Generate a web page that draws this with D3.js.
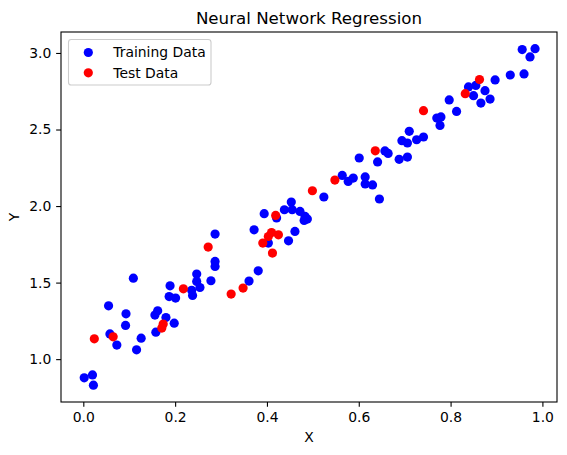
<!DOCTYPE html>
<html>
<head>
<meta charset="utf-8">
<script src="https://cdn.jsdelivr.net/npm/d3@7"></script>
<style>
  body { margin: 0; background: #fff; }
  svg text { font-family: "DejaVu Sans", sans-serif; fill: #000; }
</style>
</head>
<body>
<svg id="container" width="567" height="455"></svg>
<script>
// Training points (blue)
var trainX = [0.002, 0.020, 0.022, 0.055, 0.058, 0.073, 0.093, 0.092, 0.109, 0.116,
              0.126, 0.162, 0.156, 0.180, 0.198, 0.158, 0.189, 0.187, 0.201, 0.236,
              0.238, 0.247, 0.247, 0.254, 0.278, 0.287, 0.287, 0.287, 0.361, 0.381,
              0.372, 0.394, 0.421, 0.403, 0.447, 0.461, 0.453, 0.438, 0.455, 0.472,
              0.483, 0.488, 0.481, 0.524, 0.564, 0.577, 0.588, 0.601, 0.614, 0.614,
              0.630, 0.645, 0.641, 0.657, 0.664, 0.688, 0.706, 0.694, 0.710, 0.706,
              0.726, 0.741, 0.770, 0.779, 0.777, 0.797, 0.813, 0.839, 0.855, 0.875,
              0.850, 0.886, 0.866, 0.897, 0.930, 0.960, 0.956, 0.984, 0.973];
var trainY = [0.878, 0.897, 0.830, 1.348, 1.165, 1.092, 1.296, 1.220, 1.529, 1.061,
              1.137, 1.316, 1.288, 1.272, 1.235, 1.176, 1.479, 1.409, 1.399, 1.450,
              1.416, 1.556, 1.507, 1.468, 1.512, 1.638, 1.605, 1.817, 1.510, 1.577,
              1.845, 1.950, 1.922, 1.758, 1.773, 1.834, 2.026, 1.976, 1.976, 1.965,
              1.932, 1.915, 1.906, 2.059, 2.200, 2.161, 2.183, 2.314, 2.190, 2.144,
              2.138, 2.046, 2.288, 2.360, 2.344, 2.305, 2.320, 2.427, 2.488, 2.412,
              2.433, 2.451, 2.575, 2.582, 2.527, 2.693, 2.618, 2.778, 2.788, 2.754,
              2.721, 2.699, 2.673, 2.824, 2.856, 2.863, 3.022, 3.028, 2.974];

// Test points (red)
var testX = [0.024, 0.065, 0.171, 0.174, 0.218, 0.272, 0.322, 0.348, 0.391, 0.403,
             0.410, 0.425, 0.412, 0.419, 0.499, 0.548, 0.636, 0.741, 0.832, 0.863];
var testY = [1.133, 1.146, 1.203, 1.229, 1.459, 1.732, 1.425, 1.464, 1.758, 1.801,
             1.827, 1.812, 1.693, 1.939, 2.100, 2.170, 2.361, 2.623, 2.734, 2.826];

var xTicks = [0.0, 0.2, 0.4, 0.6, 0.8, 1.0];
var yTicks = [1.0, 1.5, 2.0, 2.5, 3.0];

function drawChart()
{
    var svg = d3.select('#container');
    var plotLeft = 61, plotRight = 557, plotTop = 32, plotBottom = 402;
    var tickLen = 4.86;

    var x = d3.scaleLinear().domain([-0.0486, 1.0318]).range([plotLeft, plotRight]);
    var y = d3.scaleLinear().domain([0.72, 3.137]).range([plotBottom, plotTop]);

    var trainData = trainX.map((v, i) => [v, trainY[i]]);
    var testData = testX.map((v, i) => [v, testY[i]]);

    svg.append("g").selectAll("circle").data(trainData).join("circle")
        .attr("cx", d => x(d[0])).attr("cy", d => y(d[1]))
        .attr("r", 4.6).attr("fill", "#0000ff");
    svg.append("g").selectAll("circle").data(testData).join("circle")
        .attr("cx", d => x(d[0])).attr("cy", d => y(d[1]))
        .attr("r", 4.6).attr("fill", "#ff0000");

    // Axes
    var xAxis = svg.append("g").attr("transform", "translate(0," + plotBottom + ")")
        .call(d3.axisBottom(x).tickValues(xTicks).tickFormat(d3.format(".1f"))
            .tickSize(tickLen).tickPadding(4.86));
    var yAxis = svg.append("g").attr("transform", "translate(" + plotLeft + ",0)")
        .call(d3.axisLeft(y).tickValues(yTicks).tickFormat(d3.format(".1f"))
            .tickSize(tickLen).tickPadding(4.86));
    [xAxis, yAxis].forEach(a => {
        a.select(".domain").remove();
        a.selectAll("line").attr("stroke", "#000").attr("stroke-width", 1.1);
        a.selectAll("text").style("font-size", "13.9px").style("font-family", "DejaVu Sans");
    });

    // Frame
    svg.append("rect").attr("x", plotLeft).attr("y", plotTop)
        .attr("width", plotRight - plotLeft).attr("height", plotBottom - plotTop)
        .attr("fill", "none").attr("stroke", "#000").attr("stroke-width", 1.1);

    // Titles
    svg.append("text").attr("x", (plotLeft + plotRight) / 2).attr("y", 24)
        .attr("text-anchor", "middle").style("font-size", "16.67px")
        .text("Neural Network Regression");
    svg.append("text").attr("x", (plotLeft + plotRight) / 2).attr("y", 442)
        .attr("text-anchor", "middle").style("font-size", "13.9px").text("X");
    svg.append("text").attr("transform", "translate(19," + ((plotTop + plotBottom) / 2) + ") rotate(-90)")
        .attr("text-anchor", "middle").style("font-size", "13.9px").text("Y");

    // Legend
    var legend = svg.append("g");
    legend.append("rect").attr("x", 68.5).attr("y", 39.5).attr("width", 142.5).attr("height", 45.5)
        .attr("rx", 2.8).attr("fill", "#fff").attr("fill-opacity", 0.8)
        .attr("stroke", "#cccccc").attr("stroke-width", 1.1);
    var legendItems = [["Training Data", "#0000ff"], ["Test Data", "#ff0000"]];
    legend.selectAll("circle").data(legendItems).join("circle")
        .attr("cx", 88.3).attr("cy", (d, i) => 52.5 + i * 20.3)
        .attr("r", 4.6).attr("fill", d => d[1]);
    legend.selectAll("text").data(legendItems).join("text")
        .attr("x", 113.3).attr("y", (d, i) => 57.3 + i * 20.3)
        .style("font-size", "13.9px").text(d => d[0]);
}

drawChart();
</script>
</body>
</html>
